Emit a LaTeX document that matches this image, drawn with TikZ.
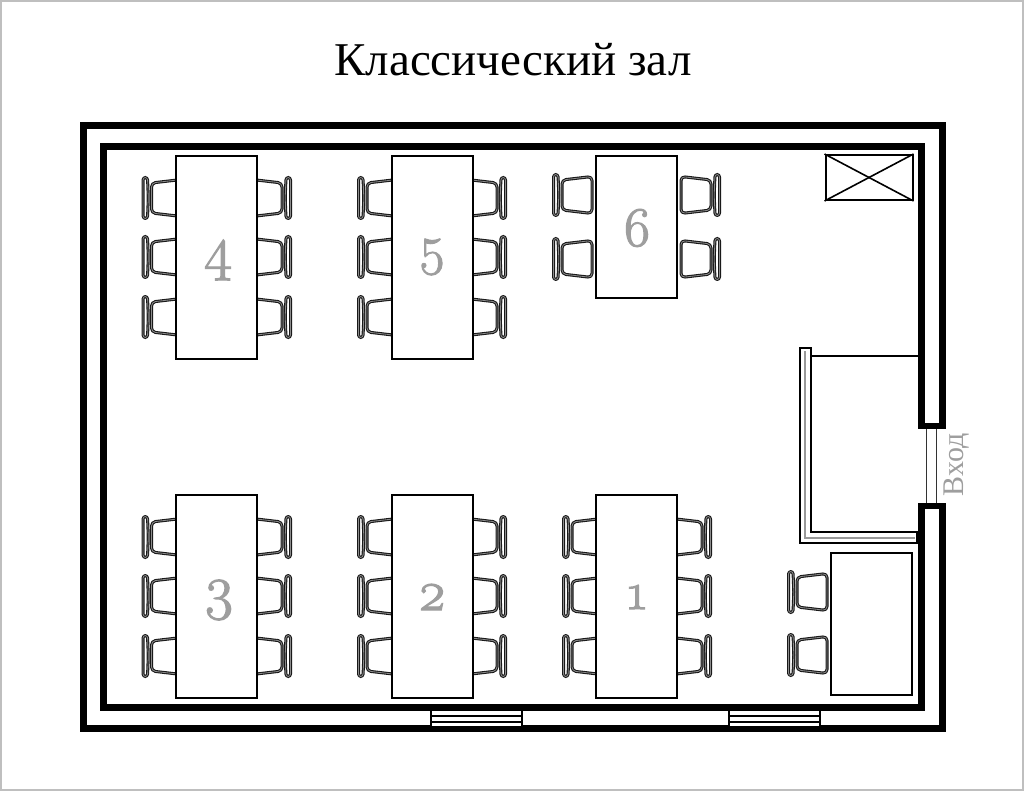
\documentclass[tikz,border=0pt]{standalone}
\usepackage{fontspec}
\setmainfont{Liberation Serif}
\newfontfamily\numfont[Numbers=OldStyle, FakeBold=2]{Latin Modern Roman}
\definecolor{numgray}{gray}{0.62}
\tikzset{
    wall/.style={line width=7pt, miter limit=10},
    tablebox/.style={draw, fill=white, line width=2pt, inner sep=0pt},
    numlabel/.style={text=numgray, inner sep=0pt, font=\numfont\fontsize{#1}{#1}\selectfont},
    chairline/.style={draw=black!90, double=black!45, line width=1.1pt, double distance=0.8pt, line join=round},
    pics/chair/.style={code={
        \draw[chairline, rounded corners=2.5pt] (-2.5,-20.5) -- (2,-20.5) -- (2.8,0) -- (2,20.5) -- (-2.5,20.5) -- cycle;
        \draw[chairline, rounded corners=4pt] (6,-15) -- (36,-18.5) -- (36,18.5) -- (6,15) -- cycle;
    }},
    pics/window/.style={code={
        \draw[line width=1.2pt, fill=white] (0,2) rectangle (91,19);
        \draw[line width=1.8pt] (0,8) -- (91,8);
        \draw[line width=1.8pt] (0,14) -- (91,14);
    }}
}
\begin{document}
\begin{tikzpicture}[x=1pt, y=-1pt]
    \useasboundingbox (0,0) rectangle (1024,791);
    \draw[black!25, line width=2pt] (1,1) rectangle (1023,790);
    \node (title) at (513,60) {\fontsize{47}{47}\selectfont Классический зал};
    % walls
    \draw[wall] (942.5,425) -- (942.5,126) -- (83,126) -- (83,728.5) -- (942.5,728.5) -- (942.5,506);
    \draw[wall] (921.5,425) -- (921.5,147) -- (103,147) -- (103,707.5) -- (921.5,707.5) -- (921.5,506);
    % door
    \fill (918,423) rectangle (946,429);
    \fill (918,503) rectangle (946,509);
    \draw[line width=1.2pt, black!80] (926.5,429) -- (926.5,503);
    \draw[line width=1.2pt, black!80] (936.5,429) -- (936.5,503);
    \node[rotate=90, text=numgray, font=\fontsize{30}{30}\selectfont] (entry) at (957,465) {Вход};
    % windows
    \pic at (431,708) {window};
    \pic at (729,708) {window};
    % screen
    \draw[line width=1.6pt, fill=white] (800,348) -- (811,348) -- (811,532) -- (917,532) -- (917,543) -- (800,543) -- cycle;
    \draw[line width=1.2pt, black!40] (805,351) -- (805,538) -- (915,538);
    \draw[line width=1.6pt] (811,356) -- (918,356);
    % box in the corner
    \node[tablebox, minimum width=87pt, minimum height=45pt] (box) at (869,177.5) {};
    \draw[line width=1.6pt] (box.north west) -- (box.south east);
    \draw[line width=1.6pt] (box.north east) -- (box.south west);
    % chairs
    \foreach \y in {198,257,317} {
        \pic at (145.5,\y) {chair};
        \pic[xscale=-1] at (288,\y) {chair};
        \pic at (361,\y) {chair};
        \pic[xscale=-1] at (503,\y) {chair};
    }
    \foreach \y in {537,596,656} {
        \pic at (145.5,\y) {chair};
        \pic[xscale=-1] at (288,\y) {chair};
        \pic at (361,\y) {chair};
        \pic[xscale=-1] at (503,\y) {chair};
        \pic at (566,\y) {chair};
        \pic[xscale=-1] at (708,\y) {chair};
    }
    \foreach \y in {195,259} {
        \pic at (556,\y) {chair};
        \pic[xscale=-1] at (717,\y) {chair};
    }
    \pic at (791,592) {chair};
    \pic at (791,655) {chair};
    % tables
    \node[tablebox, minimum width=81pt, minimum height=203pt] (t4) at (216.5,257.5) {};
    \node[tablebox, minimum width=81pt, minimum height=203pt] (t5) at (432,257.5) {};
    \node[tablebox, minimum width=81pt, minimum height=142pt] (t6) at (636.5,227) {};
    \node[tablebox, minimum width=81pt, minimum height=203pt] (t3) at (216.5,596.5) {};
    \node[tablebox, minimum width=81pt, minimum height=203pt] (t2) at (432,596.5) {};
    \node[tablebox, minimum width=81pt, minimum height=203pt] (t1) at (636.5,596.5) {};
    \node[tablebox, minimum width=81pt, minimum height=142pt] (desk) at (871,624) {};
    % numbers
    \node[numlabel=60] (n4) at (218,260) {4};
    \node[numlabel=54] (n5) at (432,257) {5};
    \node[numlabel=56] (n6) at (637,228) {6};
    \node[numlabel=60] (n3) at (219,600) {3};
    \node[numlabel=56] (n2) at (432,597) {2};
    \node[numlabel=52] (n1) at (637,597) {1};
\end{tikzpicture}
\end{document}
